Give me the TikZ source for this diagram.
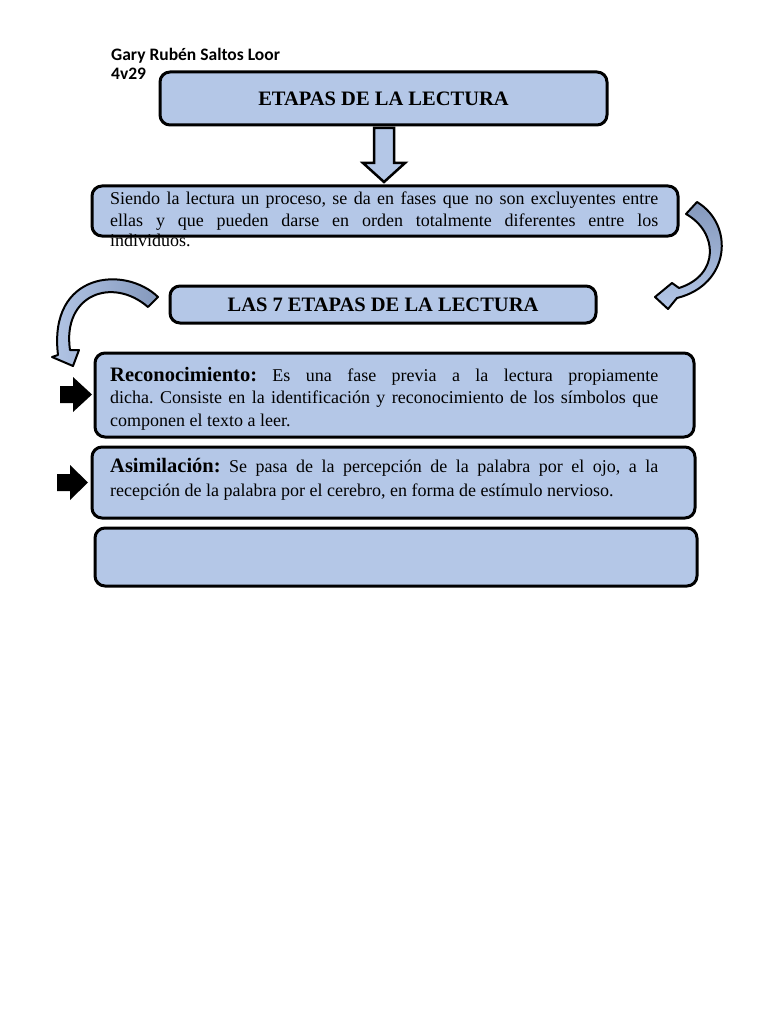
\documentclass[tikz,border=0pt]{standalone}
\usepackage{fontspec}
\setmainfont{Liberation Serif}
\newfontfamily\calibri{Carlito}
\usepackage{tikz}
\usetikzlibrary{positioning}
\definecolor{boxblue}{RGB}{180,199,231}
\definecolor{bendblue}{RGB}{132,152,188}
\frenchspacing
\tikzset{x=1pt, y=-1pt,
box/.style={ % Sets the properties for each rounded box
draw,
line width=3pt,
rounded corners=10pt,
fill=boxblue},
heading/.style={font=\fontsize{20.5}{24}\selectfont\bfseries},
body/.style={ % Justified text inside the boxes
text width=548pt,
align=justify,
inner sep=0pt,
anchor=base west,
font=\fontsize{18}{21}\selectfont},
blockarrow/.style={draw, line width=2.5pt, fill=boxblue, line join=miter},
curvearrow/.style={draw, line width=2pt, line join=round}}
\newcommand{\term}[1]{{\fontsize{20.5}{21}\selectfont\bfseries #1}}

\begin{document}
\begin{tikzpicture}
\useasboundingbox (0,0) rectangle (768,1024);
\node[anchor=base west, inner sep=0pt, align=left, font=\calibri\bfseries\fontsize{17.5}{19}\selectfont] (n0) at (111,79.5) {Gary Rubén Saltos Loor\\4v29};
\node[box, heading, minimum width=447pt, minimum height=53pt] (b0) at (383.5,98.5) {ETAPAS DE LA LECTURA};
\node[box, minimum width=586pt, minimum height=50pt] (b1) at (385,211) {};
\node[box, heading, minimum width=426pt, minimum height=37pt] (b2) at (383,304.5) {LAS 7 ETAPAS DE LA LECTURA};
\node[box, minimum width=599pt, minimum height=84pt] (b3) at (394.5,395) {};
\node[box, minimum width=603pt, minimum height=71pt] (b4) at (393.5,482.5) {};
\node[box, minimum width=602pt, minimum height=58pt] (b5) at (396,557) {};
% texts
\node[body] (t1) at (110,205) {Siendo la lectura un proceso, se da en fases que no son excluyentes entre\linebreak ellas y que pueden darse en orden totalmente diferentes entre los\linebreak individuos.};
\node[body, font=\fontsize{18}{22.5}\selectfont] (t3) at (110,381) {\term{Reconocimiento:} Es una fase previa a la lectura propiamente\linebreak dicha. Consiste en la identificación y reconocimiento de los símbolos que\linebreak componen el texto a leer.};
\node[body, font=\fontsize{18}{24}\selectfont] (t4) at (110,472.5) {\term{Asimilación:} Se pasa de la percepción de la palabra por el ojo, a la\linebreak recepción de la palabra por el cerebro, en forma de estímulo nervioso.};
% arrows
\draw[blockarrow] (374,128) -- (394,128) -- (394,163) -- (405,163) -- (384,182) -- (363,163) -- (374,163) -- cycle;
\draw[curvearrow, top color=bendblue, bottom color=boxblue] (697,202) .. controls (735,225) and (730,285) .. (677,298) -- (668,309) -- (655,297) -- (672,283) -- (679,288) .. controls (720,275) and (718,232) .. (686,214) -- cycle;
\draw[curvearrow, right color=bendblue, left color=boxblue] (158,297) .. controls (125,265) and (48,272) .. (58,355) -- (52,357) -- (73,366) -- (79,350) -- (70,350) .. controls (62,295) and (112,276) .. (148,307) -- cycle;
\fill (60,386) -- (73,386) -- (73,377) -- (92,394.5) -- (73,412) -- (73,403) -- (60,403) -- cycle;
\fill (57,474) -- (70,474) -- (70,465) -- (88,482.5) -- (70,500) -- (70,491) -- (57,491) -- cycle;
\end{tikzpicture}
\end{document}
